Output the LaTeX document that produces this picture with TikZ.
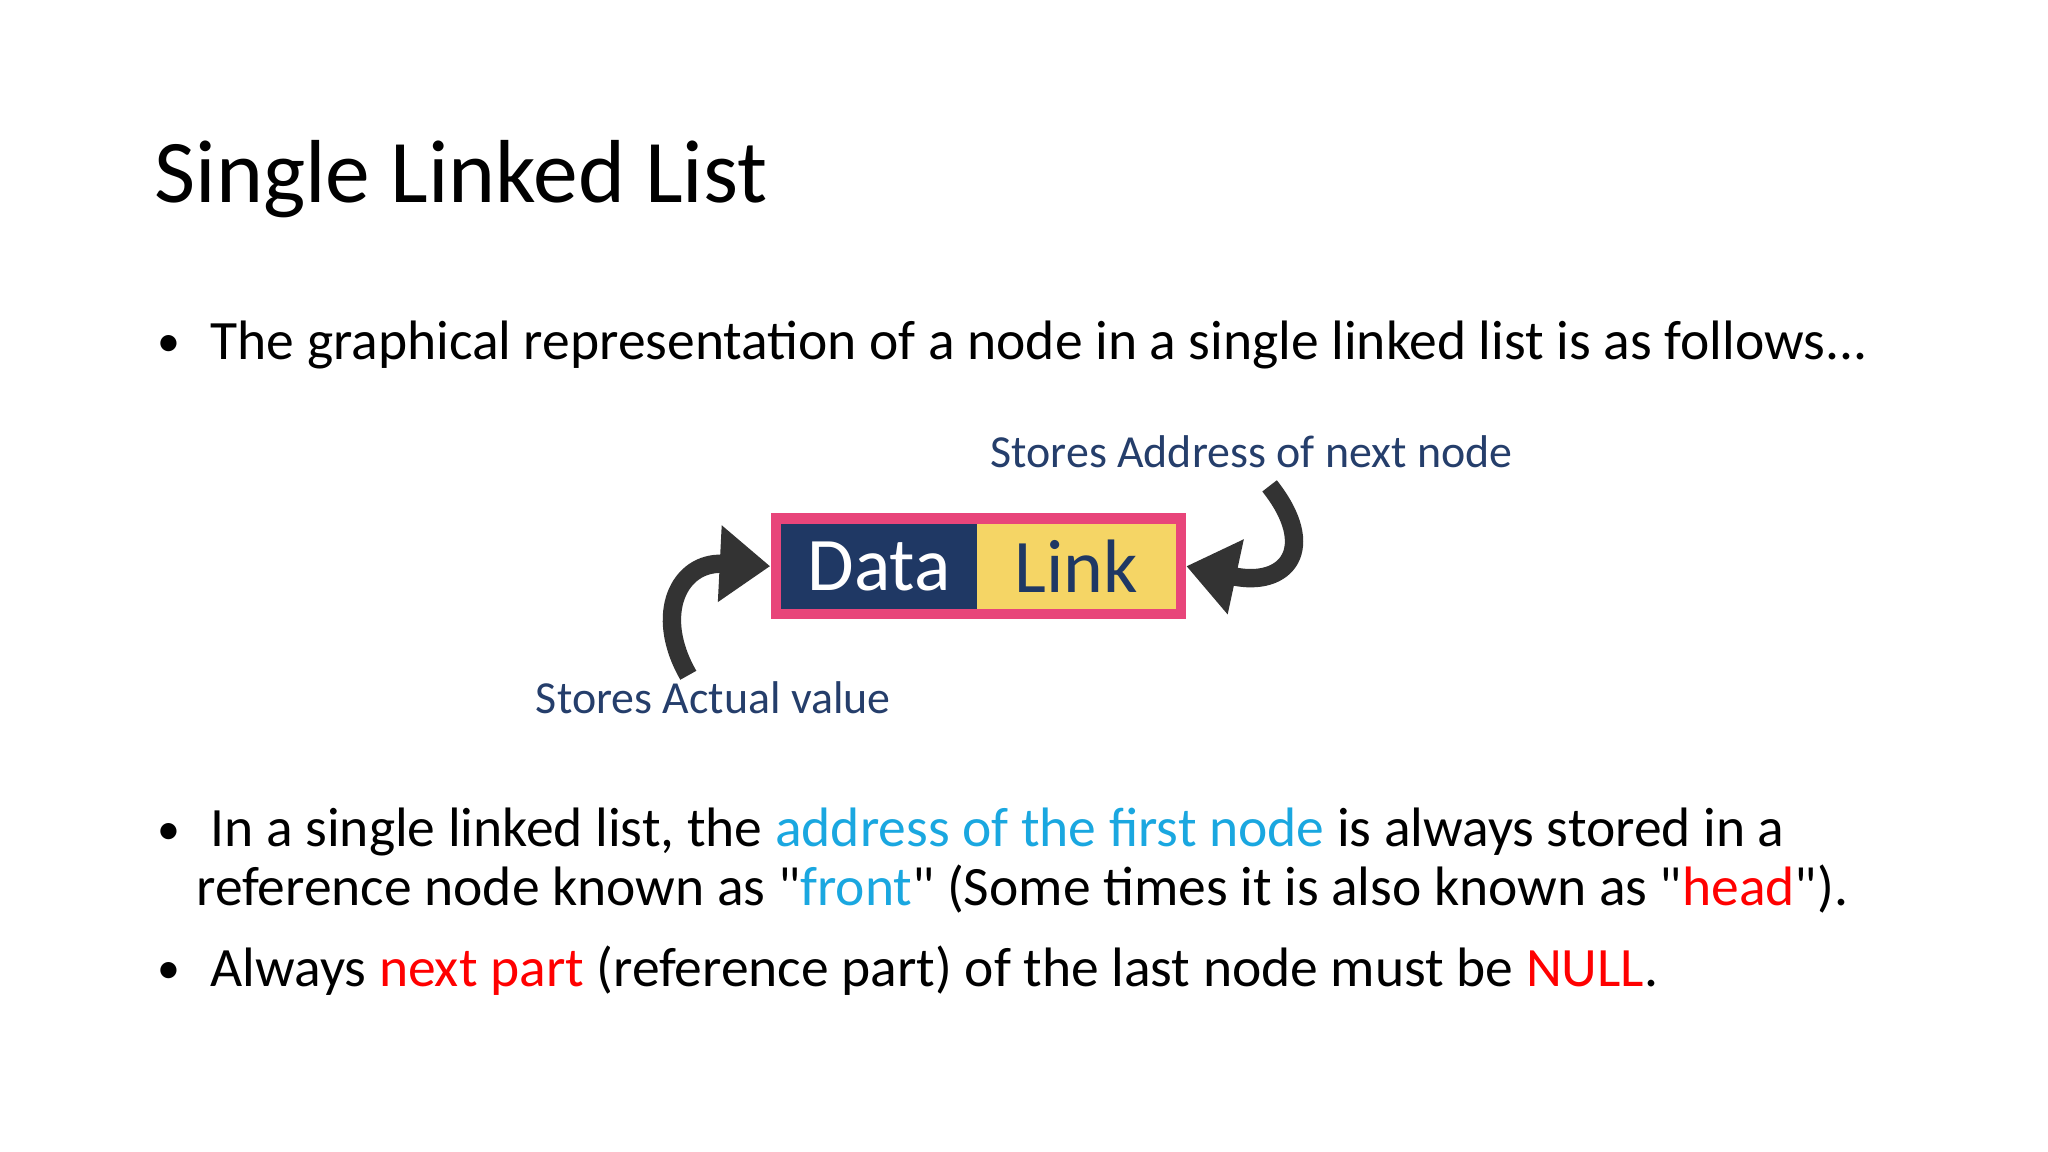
\documentclass[tikz,border=0pt]{standalone}
\usepackage{fontspec}
\setmainfont[Contextuals=NoAlternate]{Carlito}
\usetikzlibrary{arrows.meta}
\definecolor{navy}{HTML}{1F3864}
\definecolor{lbl}{HTML}{253E6B}
\definecolor{pinkb}{HTML}{E8457A}
\definecolor{yel}{HTML}{F5D565}
\definecolor{sky}{HTML}{1AA7E0}
\definecolor{arr}{HTML}{333333}
\tikzset{
  body/.style={anchor=base west,inner sep=0pt,font=\fontsize{24.2}{29}\selectfont,align=left},
  lab/.style={anchor=base west,inner sep=0pt,text=lbl,font=\fontsize{20}{23}\selectfont},
  curv/.style={arr,line width=8pt,-{Triangle[length=22pt,width=32pt]}},
}
\newcommand{\sk}[1]{\textcolor{sky}{#1}}
\newcommand{\rd}[1]{\textcolor{red}{#1}}
\newcommand{\qq}{\textquotedbl}
\newcommand{\bul}{{\fontsize{20}{20}\selectfont\raisebox{1pt}{•}}\hspace{0.55em}}
\begin{document}
\begin{tikzpicture}[x=0.02cm,y=-0.02cm]
\useasboundingbox[fill=white] (0,0) rectangle (1568,882);
\node[anchor=base west,inner sep=0pt,font=\fontsize{39}{48}\selectfont] (title) at (118,155) {Single Linked List};
\node[body] (b1) at (120,275) {\bul The graphical representation of a node in a single linked list is as follows...};
\node[fill=pinkb,minimum width=6.36cm,minimum height=1.62cm,inner sep=0pt] (frame) at (749,433.5) {};
\node[fill=navy,minimum width=3cm,minimum height=1.3cm,inner sep=0pt,text=white,font=\fontsize{33}{36}\selectfont] (data) at (673,433.5) {Data};
\node[fill=yel,minimum width=3.04cm,minimum height=1.3cm,inner sep=0pt,text=navy,font=\fontsize{33}{36}\selectfont] (link) at (824,433.5) {Link};
\node[lab] (la) at (758,358) {Stores Address of next node};
\node[lab] (lv) at (410,546) {Stores Actual value};
\coordinate (as) at (972,372);
\coordinate (vs) at (527,517);
\draw[curv] (as) .. controls (1010,420) and (985,450) .. (frame.east);
\draw[curv] (vs) .. controls (500,470) and (520,430) .. (frame.west);
\node[body] (b2) at (120,648) {\bul In a single linked list, the \sk{address of the first node} is always stored in a};
\node[body] (b2b) at (150,693) {reference node known as \qq\sk{front}\qq{} (Some times it is also known as \qq\rd{head}\qq).};
\node[body] (b3) at (120,755) {\bul Always \rd{next part} (reference part) of the last node must be \rd{NULL}.};
\end{tikzpicture}
\end{document}
